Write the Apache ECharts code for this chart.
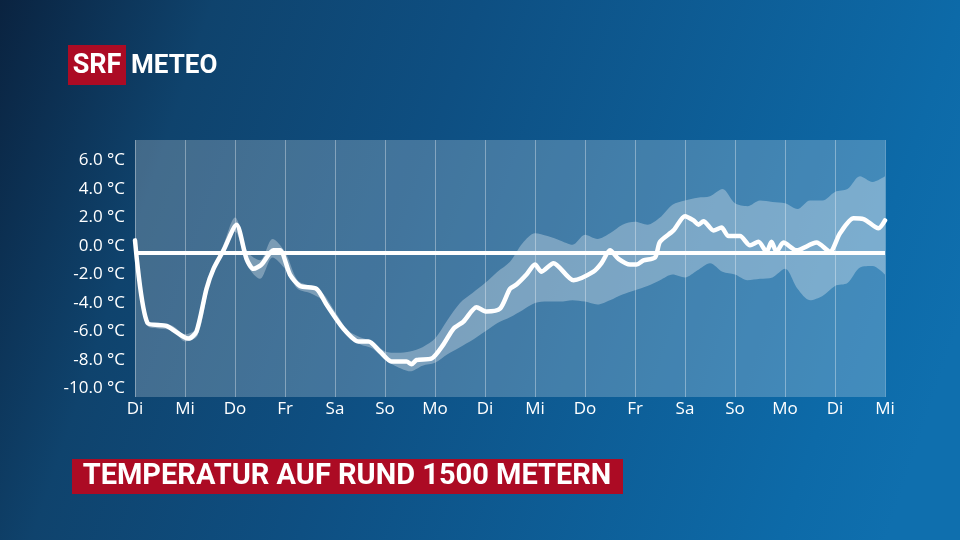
<!DOCTYPE html>
<html>
<head>
<meta charset="utf-8">
<script src="https://cdn.jsdelivr.net/npm/echarts@6/dist/echarts.min.js"></script>
<style>
  html, body { margin: 0; padding: 0; }
  #chart { width: 960px; height: 540px; }
</style>
</head>
<body>
<div id="chart"></div>
<script>
// day names on the x axis (one per day boundary)
var dayLabels = ['Di', 'Mi', 'Do', 'Fr', 'Sa', 'So', 'Mo', 'Di', 'Mi', 'Do', 'Fr', 'Sa', 'So', 'Mo', 'Di', 'Mi'];

// main forecast line, position in days from start
var lineDays = [0, 0.25, 0.63, 1.07, 1.23, 1.43, 1.57, 1.77, 2.03, 2.23, 2.37, 2.53, 2.77, 2.9, 3.1, 3.3,
    3.63, 3.83, 4.17, 4.47, 4.67, 4.9, 5.13, 5.43, 5.53, 5.63, 5.93, 6.17, 6.37, 6.57, 6.83, 7.03,
    7.3, 7.5, 7.63, 7.83, 8.0, 8.13, 8.37, 8.77, 9.17, 9.33, 9.5, 9.67, 9.9, 10.03, 10.17, 10.4,
    10.5, 10.77, 11.0, 11.17, 11.27, 11.37, 11.57, 11.73, 11.87, 12.1, 12.3, 12.47, 12.63, 12.73,
    12.83, 12.97, 13.23, 13.63, 13.9, 14.1, 14.37, 14.57, 14.87, 15.0];
var lineTemps = [0.4, -5.4, -5.6, -6.5, -6.0, -3.0, -1.6, -0.3, 1.5, -0.9, -1.6, -1.3, -0.3, -0.3, -2.0, -2.8,
    -3.0, -4.1, -5.8, -6.7, -6.7, -7.4, -8.1, -8.1, -8.3, -8.0, -7.9, -6.9, -5.8, -5.3, -4.3, -4.6,
    -4.4, -3.0, -2.7, -2.0, -1.3, -1.8, -1.2, -2.4, -1.8, -1.2, -0.3, -0.9, -1.3, -1.3, -1.0, -0.8,
    0.3, 1.1, 2.1, 1.8, 1.5, 1.75, 1.1, 1.3, 0.7, 0.7, 0.05, 0.3, -0.4, 0.3,
    -0.4, 0.25, -0.3, 0.25, -0.4, 0.9, 1.95, 1.9, 1.25, 1.8];

// ensemble spread, every 6 hours (0.25 day)
var bandLow = [0.2, -5.6, -5.8, -5.9, -6.7, -6.3, -2.6, -0.6, 1.0, -1.4, -2.3, -0.8, -1.6,
    -3.0, -3.3, -3.8, -5.0, -6.3, -6.9, -7.2, -8.0, -8.5, -8.8, -8.4, -8.2, -7.6, -7.1, -6.6,
    -6.0, -5.4, -5.0, -4.5, -4.0, -3.9, -3.9, -3.8, -3.9, -4.1, -3.8, -3.4, -3.1, -2.8, -2.4,
    -2.0, -2.2, -1.7, -1.2, -1.8, -2.0, -2.4, -2.3, -2.2, -1.6, -3.0, -3.8, -3.5, -2.8, -2.6,
    -1.5, -1.4, -2.0];
var bandHigh = [0.5, -5.3, -5.4, -5.6, -6.2, -5.7, -1.9, -0.1, 2.0, -0.4, -1.0, 0.5, -0.4,
    -2.4, -2.8, -3.3, -4.6, -5.9, -6.4, -6.7, -7.4, -7.5, -7.4, -7.1, -6.5, -5.2, -4.0, -3.3,
    -2.6, -1.8, -1.1, 0.2, 0.9, 0.7, 0.4, 0.1, 0.8, 0.5, 0.9, 1.5, 1.7, 1.5, 2.0,
    2.9, 3.2, 3.4, 3.5, 4.0, 3.0, 2.8, 3.2, 3.1, 3.0, 2.6, 3.2, 3.2, 3.8, 4.0,
    4.9, 4.5, 4.9];

var refLine = -0.5;

var bandSteps = bandLow.map(function (v, i) { return String(i); });
var bandSpread = bandHigh.map(function (v, i) { return +(v - bandLow[i]).toFixed(2); });
var lineData = lineDays.map(function (d, i) { return [d, lineTemps[i]]; });

var chart = echarts.init(document.getElementById('chart'));
chart.setOption({
    animation: false,
    backgroundColor: new echarts.graphic.LinearGradient(0, 0, 1, 0.6, [
        { offset: 0, color: '#0a2340' },
        { offset: 0.2, color: '#0f436d' },
        { offset: 0.45, color: '#0e4f82' },
        { offset: 0.9, color: '#0d6aa8' },
        { offset: 1, color: '#0f6fae' }
    ]),
    textStyle: { fontFamily: 'Open Sans' },
    grid: {
        left: 135, right: 75, top: 140, bottom: 143,
        show: true,
        backgroundColor: 'rgba(255,255,255,0.22)',
        borderWidth: 0
    },
    xAxis: [{
        type: 'category',
        data: bandSteps,
        boundaryGap: false,
        show: false
    }, {
        type: 'value',
        min: 0,
        max: 15,
        interval: 1,
        position: 'bottom',
        axisLine: { show: false },
        axisTick: { show: false },
        splitLine: { show: true, lineStyle: { color: 'rgba(255,255,255,0.35)', width: 1 } },
        axisLabel: {
            color: '#fff',
            fontSize: 17,
            fontFamily: 'Open Sans',
            margin: 4,
            formatter: function (v) { return dayLabels[Math.round(v)]; }
        }
    }],
    yAxis: {
        type: 'value',
        min: -10.6,
        max: 7.45,
        minInterval: 2,
        maxInterval: 2,
        splitNumber: 9,
        axisLine: { show: false },
        axisTick: { show: false },
        splitLine: { show: false },
        axisLabel: {
            color: '#fff',
            fontSize: 17,
            fontFamily: 'Open Sans',
            margin: 10,
            showMinLabel: false,
            showMaxLabel: false,
            formatter: function (v) {
                if (Math.abs(v % 2) > 0.001) return '';
                return v.toFixed(1) + ' °C';
            }
        }
    },
    series: [{
        name: 'low',
        type: 'line',
        xAxisIndex: 0,
        stack: 'band',
        stackStrategy: 'all',
        data: bandLow,
        symbol: 'none',
        smooth: 0.3,
        lineStyle: { opacity: 0 },
        silent: true
    }, {
        name: 'spread',
        type: 'line',
        xAxisIndex: 0,
        stack: 'band',
        stackStrategy: 'all',
        data: bandSpread,
        symbol: 'none',
        smooth: 0.3,
        lineStyle: { opacity: 0 },
        areaStyle: { color: 'rgba(255,255,255,0.3)', opacity: 1 },
        silent: true
    }, {
        name: 'Temperatur',
        type: 'line',
        xAxisIndex: 1,
        data: lineData,
        symbol: 'none',
        smooth: 0.25,
        lineStyle: { color: '#fff', width: 4.5, cap: 'round', join: 'round' },
        markLine: {
            silent: true,
            symbol: 'none',
            label: { show: false },
            lineStyle: { color: '#fff', width: 4, type: 'solid' },
            data: [{ yAxis: refLine }]
        }
    }],
    graphic: [{
        type: 'rect',
        left: 68, top: 45,
        shape: { width: 58, height: 40 },
        style: { fill: '#ac0b24' }
    }, {
        type: 'text',
        x: 97, y: 66,
        style: {
            text: 'SRF', fill: '#fff', font: 'bold 27px Roboto',
            textAlign: 'center', textVerticalAlign: 'middle'
        }
    }, {
        type: 'text',
        x: 131, y: 66,
        style: {
            text: 'METEO', fill: '#fff', font: 'bold 26px Roboto',
            textAlign: 'left', textVerticalAlign: 'middle'
        }
    }, {
        type: 'rect',
        left: 72, top: 459,
        shape: { width: 551, height: 35 },
        style: { fill: '#ac0b24' }
    }, {
        type: 'text',
        x: 347, y: 477,
        style: {
            text: 'TEMPERATUR AUF RUND 1500 METERN', fill: '#fff', font: 'bold 29px Roboto',
            textAlign: 'center', textVerticalAlign: 'middle'
        }
    }]
});
</script>
</body>
</html>
